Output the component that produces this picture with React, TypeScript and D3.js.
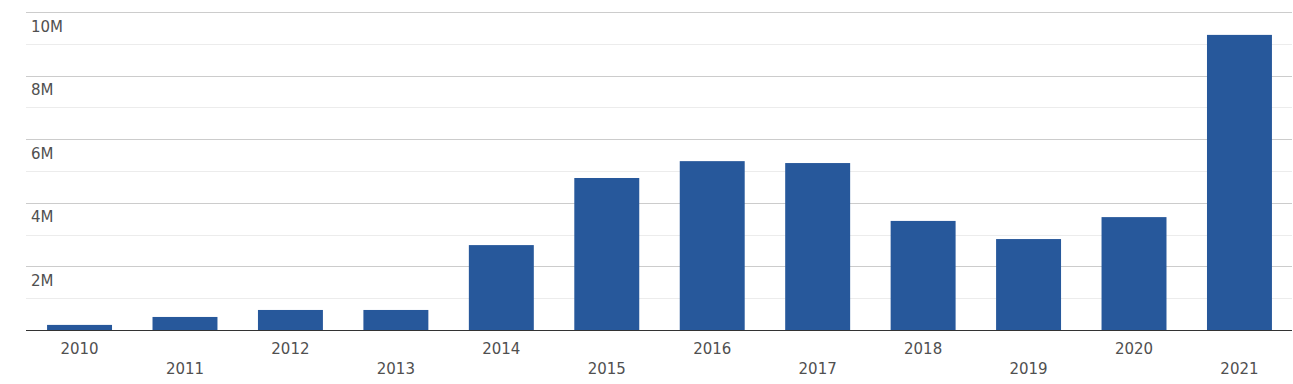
import React from "react";
import * as d3 from "d3";

const years = ["2010","2011","2012","2013","2014","2015","2016","2017","2018","2019","2020","2021"];
const values = [0.16, 0.41, 0.63, 0.63, 2.67, 4.78, 5.31, 5.25, 3.43, 2.86, 3.55, 9.28].map(v => v * 1e6);
const majorTicks = [2e6, 4e6, 6e6, 8e6, 10e6];
const minorTicks = [1e6, 3e6, 5e6, 7e6, 9e6];
const tickLabels = ["2M", "4M", "6M", "8M", "10M"];

export default function App() {
  const W = 1293, H = 384;
  const left = 26, right = 1292, top = 12, bottom = 330;
  const x = d3.scaleBand<string>().domain(years).range([left + 0.5, right + 0.5]).paddingInner(0.384).paddingOuter(0.195);
  const y = d3.scaleLinear().domain([0, 10e6]).range([bottom, top]);
  const font = "'DejaVu Sans', sans-serif";
  return (
    <svg width={W} height={H} style={{ position: "absolute", left: 0, top: 0 }}>
      {minorTicks.map(t => (
        <line key={"m" + t} x1={left} x2={right} y1={Math.round(y(t)) + 0.5} y2={Math.round(y(t)) + 0.5} stroke="#ececec" />
      ))}
      {majorTicks.map((t, i) => (
        <g key={"M" + t}>
          <line x1={left} x2={right} y1={Math.round(y(t)) + 0.5} y2={Math.round(y(t)) + 0.5} stroke="#cccccc" />
          <text x={31} y={y(t) + 19.5} fontFamily={font} fontSize={15} fill="#505050">{tickLabels[i]}</text>
        </g>
      ))}
      {years.map((yr, i) => (
        <rect key={yr} x={x(yr)} y={y(values[i])} width={x.bandwidth()} height={bottom - y(values[i])} fill="#27589b" />
      ))}
      <line x1={left} x2={right} y1={bottom + 0.5} y2={bottom + 0.5} stroke="#333" />
      {years.map((yr, i) => (
        <text key={"t" + yr} x={(x(yr) as number) + x.bandwidth() / 2} y={i % 2 === 0 ? 353.5 : 373.5} textAnchor="middle" fontFamily={font} fontSize={15} fill="#505050">{yr}</text>
      ))}
    </svg>
  );
}
